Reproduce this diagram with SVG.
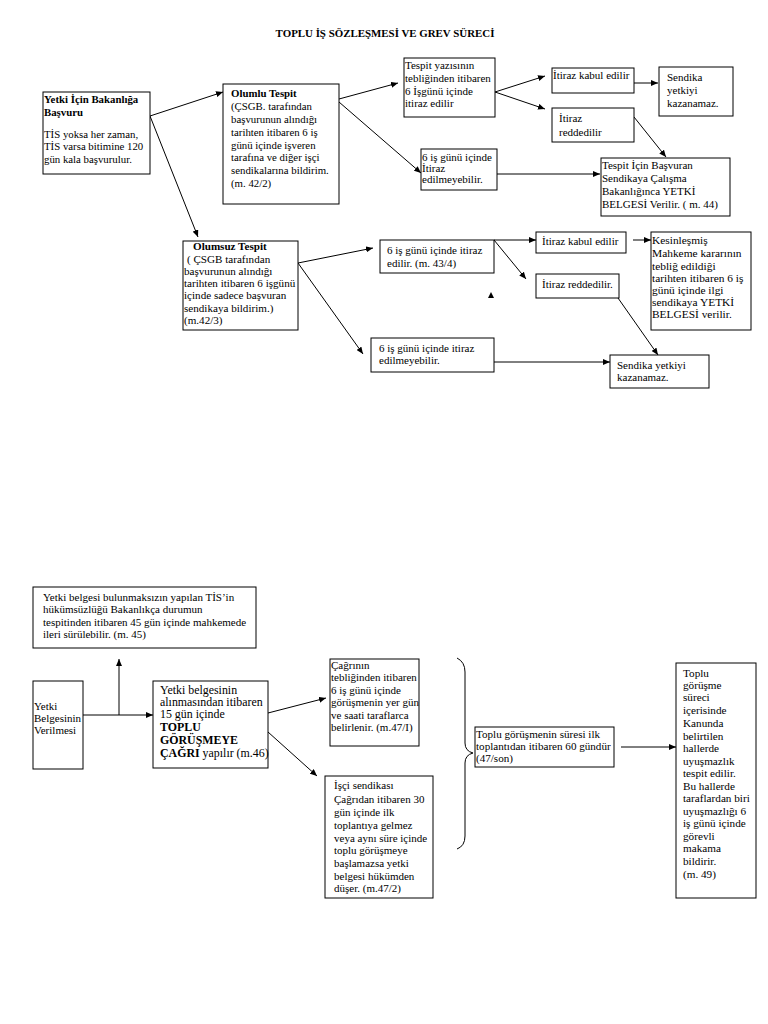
<svg xmlns="http://www.w3.org/2000/svg" width="768" height="1024" viewBox="0 0 768 1024">
<style>
.b{fill:#fff;stroke:#000;stroke-width:1}
.t{font-family:"Liberation Serif","Times New Roman",serif;font-size:11px;fill:#000}
.bd{font-weight:bold}
.c{fill:none;stroke:#000;stroke-width:1;marker-end:url(#ah)}
.f108 text{font-size:10.8px}
.f111 text{font-size:11.1px}
.f112 text{font-size:11.2px}
.f114 text{font-size:11.4px}
.f12 text{font-size:11.9px}
</style>
<defs>
<marker id="ah" markerUnits="userSpaceOnUse" markerWidth="8" markerHeight="6" refX="7" refY="3" orient="auto">
<path d="M0,0 L7,3 L0,6 Z" fill="#000"/>
</marker>
</defs>
<rect width="768" height="1024" fill="#fff"/>
<text class="t bd" x="385" y="37" text-anchor="middle" style="font-size:10.9px">TOPLU İŞ SÖZLEŞMESİ VE GREV SÜRECİ</text>

<g id="connectors">
<path class="c" d="M150,116 L223,92"/>
<path class="c" d="M150,116 L198,237"/>
<path class="c" d="M339,99 L398,83"/>
<path class="c" d="M339,102 L421,173"/>
<path class="c" d="M495,92 L545,76"/>
<path class="c" d="M495,92 L545,109"/>
<path class="c" d="M634,83 L658,83"/>
<path class="c" d="M634,117 L666,157"/>
<path class="c" d="M497,174 L600,174"/>
<path class="c" d="M298,263 L373,248"/>
<path class="c" d="M298,263 L363,354"/>
<path class="c" d="M494,240 L536,240"/>
<path class="c" d="M494,240 L526,279"/>
<path class="c" d="M633,240 L651,240"/>
<path class="c" d="M618,298 L658,355"/>
<path class="c" d="M494,362 L610,362"/>
<path d="M488,298 L491,292 L494,298 Z" fill="#000"/>
<path class="c" d="M83,715 L153,715"/>
<path class="c" d="M119,715 L119,659"/>
<path class="c" d="M268,713 L326,698"/>
<path class="c" d="M268,732 L317,776"/>
<path class="c" d="M621,747 L676,747"/>
<path fill="none" stroke="#000" stroke-width="1" d="M457,658 Q465,662 465,672 L465,743 Q465,751 473,753 Q465,755 465,763 L465,836 Q465,846 457,849"/>
</g>

<g id="n1" class="f108">
<rect class="b" x="43" y="92" width="107" height="82"/>
<text class="t bd" x="44" y="103">Yetki İçin Bakanlığa</text>
<text class="t bd" x="44" y="116">Başvuru</text>
<text class="t" x="44" y="138">TİS yoksa her zaman,</text>
<text class="t" x="44" y="150">TİS varsa bitimine 120</text>
<text class="t" x="44" y="163">gün kala başvurulur.</text>
</g>

<g id="n2" class="f108">
<rect class="b" x="223" y="84" width="116" height="120"/>
<text class="t bd" x="231" y="97">Olumlu Tespit</text>
<text class="t" x="231" y="110">(ÇSGB. tarafından</text>
<text class="t" x="231" y="123">başvurunun alındığı</text>
<text class="t" x="231" y="136">tarihten itibaren 6 iş</text>
<text class="t" x="231" y="149">günü içinde işveren</text>
<text class="t" x="231" y="161">tarafına ve diğer işçi</text>
<text class="t" x="231" y="174">sendikalarına bildirim.</text>
<text class="t" x="231" y="187">(m. 42/2)</text>
</g>

<g id="n3">
<rect class="b" x="404" y="58" width="91" height="59"/>
<text class="t" x="405" y="69">Tespit yazısının</text>
<text class="t" x="405" y="82">tebliğinden itibaren</text>
<text class="t" x="405" y="95">6 İşgünü içinde</text>
<text class="t" x="405" y="107">itiraz edilir</text>
</g>

<g id="n4">
<rect class="b" x="552" y="68" width="82" height="25"/>
<text class="t" x="553" y="79">İtiraz kabul edilir</text>
</g>

<g id="n5">
<rect class="b" x="659" y="67" width="74" height="49"/>
<text class="t" x="667" y="81">Sendika</text>
<text class="t" x="667" y="94">yetkiyi</text>
<text class="t" x="667" y="107">kazanamaz.</text>
</g>

<g id="n6">
<rect class="b" x="552" y="108" width="82" height="34"/>
<text class="t" x="559" y="122">İtiraz</text>
<text class="t" x="559" y="136">reddedilir</text>
</g>

<g id="n7">
<rect class="b" x="421" y="149" width="76" height="41"/>
<text class="t" x="422" y="161">6 iş günü içinde</text>
<text class="t" x="422" y="172">İtiraz</text>
<text class="t" x="422" y="183">edilmeyebilir.</text>
</g>

<g id="n8">
<rect class="b" x="601" y="158" width="129" height="58"/>
<text class="t" x="602" y="169">Tespit İçin Başvuran</text>
<text class="t" x="602" y="182">Sendikaya Çalışma</text>
<text class="t" x="602" y="195">Bakanlığınca YETKİ</text>
<text class="t" x="602" y="208">BELGESİ Verilir. ( m. 44)</text>
</g>

<g id="n9" class="f111">
<rect class="b" x="183" y="241" width="115" height="89"/>
<text class="t bd" x="193" y="250">Olumsuz Tespit</text>
<text class="t" x="187" y="263">( ÇSGB tarafından</text>
<text class="t" x="184" y="275">başvurunun alındığı</text>
<text class="t" x="184" y="287">tarihten itibaren 6 işgünü</text>
<text class="t" x="184" y="299">içinde sadece başvuran</text>
<text class="t" x="184" y="312">sendikaya bildirim.)</text>
<text class="t" x="184" y="324">(m.42/3)</text>
</g>

<g id="n10">
<rect class="b" x="380" y="240" width="114" height="33"/>
<text class="t" x="387" y="254">6 iş günü içinde itiraz</text>
<text class="t" x="387" y="267">edilir. (m. 43/4)</text>
</g>

<g id="n11">
<rect class="b" x="371" y="338" width="123" height="34"/>
<text class="t" x="379" y="352">6 iş günü içinde itiraz</text>
<text class="t" x="379" y="364">edilmeyebilir.</text>
</g>

<g id="n12">
<rect class="b" x="536" y="232" width="90" height="21"/>
<text class="t" x="542" y="245">İtiraz kabul edilir</text>
</g>

<g id="n13" class="f114">
<rect class="b" x="651" y="232" width="100" height="98"/>
<text class="t" x="652" y="244">Kesinleşmiş</text>
<text class="t" x="652" y="257">Mahkeme kararının</text>
<text class="t" x="652" y="270">tebliğ edildiği</text>
<text class="t" x="652" y="282">tarihten itibaren 6 iş</text>
<text class="t" x="652" y="294">günü içinde ilgi</text>
<text class="t" x="652" y="306">sendikaya YETKİ</text>
<text class="t" x="652" y="318">BELGESİ verilir.</text>
</g>

<g id="n14">
<rect class="b" x="536" y="274" width="83" height="24"/>
<text class="t" x="542" y="288">İtiraz reddedilir.</text>
</g>

<g id="n15">
<rect class="b" x="610" y="355" width="99" height="33"/>
<text class="t" x="617" y="369">Sendika yetkiyi</text>
<text class="t" x="617" y="381">kazanamaz.</text>
</g>

<g id="n16">
<rect class="b" x="33" y="587" width="223" height="61"/>
<text class="t" x="43" y="601">Yetki belgesi bulunmaksızın yapılan TİS’in</text>
<text class="t" x="43" y="613">hükümsüzlüğü Bakanlıkça durumun</text>
<text class="t" x="43" y="626">tespitinden itibaren 45 gün içinde mahkemede</text>
<text class="t" x="43" y="638">ileri sürülebilir. (m. 45)</text>
</g>

<g id="n17">
<rect class="b" x="33" y="681" width="50" height="88"/>
<text class="t" x="34" y="710">Yetki</text>
<text class="t" x="34" y="722">Belgesinin</text>
<text class="t" x="34" y="734">Verilmesi</text>
</g>

<g id="n18" class="f12">
<rect class="b" x="153" y="681" width="115" height="87"/>
<text class="t" x="160" y="694">Yetki belgesinin</text>
<text class="t" x="160" y="706">alınmasından itibaren</text>
<text class="t" x="160" y="718">15 gün içinde</text>
<text class="t bd" x="160" y="731">TOPLU</text>
<text class="t bd" x="160" y="744">GÖRÜŞMEYE</text>
<text class="t" x="160" y="757"><tspan class="bd">ÇAĞRI</tspan> yapılır (m.46)</text>
</g>

<g id="n19">
<rect class="b" x="330" y="659" width="89" height="87"/>
<text class="t" x="331" y="669">Çağrının</text>
<text class="t" x="331" y="681">tebliğinden itibaren</text>
<text class="t" x="331" y="694">6 iş günü içinde</text>
<text class="t" x="331" y="706">görüşmenin yer gün</text>
<text class="t" x="331" y="719">ve saati taraflarca</text>
<text class="t" x="331" y="731">belirlenir. (m.47/I)</text>
</g>

<g id="n20">
<rect class="b" x="325" y="776" width="108" height="122"/>
<text class="t" x="334" y="789">İşçi sendikası</text>
<text class="t" x="334" y="803">Çağrıdan itibaren 30</text>
<text class="t" x="334" y="816">gün içinde ilk</text>
<text class="t" x="334" y="829">toplantıya gelmez</text>
<text class="t" x="334" y="842">veya aynı süre içinde</text>
<text class="t" x="334" y="854">toplu görüşmeye</text>
<text class="t" x="334" y="867">başlamazsa yetki</text>
<text class="t" x="334" y="880">belgesi hükümden</text>
<text class="t" x="334" y="892">düşer. (m.47/2)</text>
</g>

<g id="n21" class="f111">
<rect class="b" x="475" y="727" width="139" height="40"/>
<text class="t" x="476" y="738">Toplu görüşmenin süresi ilk</text>
<text class="t" x="476" y="750">toplantıdan itibaren 60 gündür</text>
<text class="t" x="476" y="762">(47/son)</text>
</g>

<g id="n22" class="f112">
<rect class="b" x="676" y="663" width="80" height="235"/>
<text class="t" x="683" y="677">Toplu</text>
<text class="t" x="683" y="689">görüşme</text>
<text class="t" x="683" y="701">süreci</text>
<text class="t" x="683" y="714">içerisinde</text>
<text class="t" x="683" y="727">Kanunda</text>
<text class="t" x="683" y="740">belirtilen</text>
<text class="t" x="683" y="752">hallerde</text>
<text class="t" x="683" y="765">uyuşmazlık</text>
<text class="t" x="683" y="777">tespit edilir.</text>
<text class="t" x="683" y="790">Bu hallerde</text>
<text class="t" x="683" y="802">taraflardan biri</text>
<text class="t" x="683" y="815">uyuşmazlığı 6</text>
<text class="t" x="683" y="827">iş günü içinde</text>
<text class="t" x="683" y="840">görevli</text>
<text class="t" x="683" y="852">makama</text>
<text class="t" x="683" y="865">bildirir.</text>
<text class="t" x="683" y="878">(m. 49)</text>
</g>
</svg>
